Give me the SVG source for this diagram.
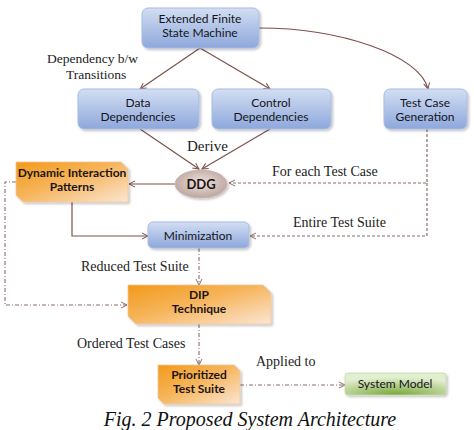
<svg xmlns="http://www.w3.org/2000/svg" width="474" height="430" viewBox="0 0 474 430">
<defs>
<linearGradient id="gBlue" x1="0" y1="0" x2="0" y2="1">
<stop offset="0" stop-color="#d2def2"/>
<stop offset="1" stop-color="#8ea8dc"/>
</linearGradient>
<linearGradient id="gOrange" x1="0" y1="0" x2="1" y2="1">
<stop offset="0" stop-color="#f29a1a"/>
<stop offset="0.45" stop-color="#f6b45a"/>
<stop offset="1" stop-color="#fbe6d4"/>
</linearGradient>
<radialGradient id="gDDG" cx="0.5" cy="0.45" r="0.6">
<stop offset="0" stop-color="#eee2de"/>
<stop offset="1" stop-color="#b8a09a"/>
</radialGradient>
<radialGradient id="gGreen" cx="0.5" cy="1" r="0.8">
<stop offset="0" stop-color="#76a635"/>
<stop offset="1" stop-color="#e2eed0"/>
</radialGradient>
<filter id="sh" x="-10%" y="-10%" width="130%" height="140%">
<feDropShadow dx="1.5" dy="1.5" stdDeviation="1" flood-color="#000" flood-opacity="0.25"/>
</filter>
<marker id="ah" viewBox="0 0 8 8" refX="7" refY="4" markerWidth="8" markerHeight="8" markerUnits="userSpaceOnUse" orient="auto">
<path d="M1,1 L7,4 L1,7" fill="none" stroke="#7b5149" stroke-width="1"/>
</marker>
<marker id="ahd" viewBox="0 0 8 8" refX="7" refY="4" markerWidth="8" markerHeight="8" markerUnits="userSpaceOnUse" orient="auto">
<path d="M1,1 L7,4 L1,7" fill="none" stroke="#8a6e6a" stroke-width="1"/>
</marker>
</defs>
<style>
.blue{fill:url(#gBlue);stroke:#a9bce3;stroke-width:1;filter:url(#sh)}
.orange{fill:url(#gOrange);stroke:#f0c79a;stroke-width:0.8;filter:url(#sh)}
.bt{font-family:Lato,"Open Sans",sans-serif;font-size:12px;fill:#141420;text-anchor:middle}
.ot{font-family:Lato,"Open Sans",sans-serif;font-size:12px;font-weight:bold;fill:#1c1414;text-anchor:middle}
.lbl{font-family:"Liberation Serif",serif;font-size:14px;fill:#222}
.solid{fill:none;stroke:#7b5149;stroke-width:1.2}
.dash{fill:none;stroke:#8a6e6a;stroke-width:1.2;stroke-dasharray:3 2}
.dd{fill:none;stroke:#8a6e6a;stroke-width:1.1;stroke-dasharray:4 2 1 2}
</style>

<g id="connectors">
<path class="solid" d="M200,48 L140,89" marker-end="url(#ah)"/>
<path class="solid" d="M200,48 L270,89" marker-end="url(#ah)"/>
<path class="solid" d="M259,28 C340,28 420,55 428,89" marker-end="url(#ah)"/>
<path class="solid" d="M140,129 L199,169" marker-end="url(#ah)"/>
<path class="solid" d="M270,129 L202,169" marker-end="url(#ah)"/>
<path class="solid" d="M175,184 L129,184" marker-end="url(#ah)"/>
<path class="solid" d="M72,202 V236 H148" marker-end="url(#ah)"/>
<path class="dash" d="M427,129 V183 H229" marker-end="url(#ahd)"/>
<path class="dash" d="M427,183 V236 H250" marker-end="url(#ahd)"/>
<path class="dd" d="M16,182 H5 V305 H127" marker-end="url(#ahd)"/>
<path class="dd" d="M199,248 V285" marker-end="url(#ahd)"/>
<path class="dd" d="M199,324 V365" marker-end="url(#ahd)"/>
<path class="dd" d="M240,385 H345" marker-end="url(#ahd)"/>
</g>

<g id="labels">
<text class="lbl" x="47" y="63" style="font-size:13.5px">Dependency b/w</text>
<text class="lbl" x="66" y="79" style="font-size:13.5px">Transitions</text>
<text class="lbl" x="187" y="151" style="font-size:15px">Derive</text>
<text class="lbl" x="272" y="176">For each Test Case</text>
<text class="lbl" x="293" y="227">Entire Test Suite</text>
<text class="lbl" x="81" y="271">Reduced Test Suite</text>
<text class="lbl" x="77" y="348">Ordered Test Cases</text>
<text class="lbl" x="256" y="366">Applied to</text>
</g>

<g id="efsm">
<rect class="blue" x="142" y="8" width="117" height="40" rx="6"/>
<text class="bt" x="200" y="23">Extended Finite</text>
<text class="bt" x="200" y="37">State Machine</text>
</g>
<g id="data-dep">
<rect class="blue" x="78" y="89" width="121" height="40" rx="6"/>
<text class="bt" x="138" y="107">Data</text>
<text class="bt" x="138" y="121">Dependencies</text>
</g>
<g id="control-dep">
<rect class="blue" x="212" y="89" width="119" height="40" rx="6"/>
<text class="bt" x="271" y="107">Control</text>
<text class="bt" x="271" y="121">Dependencies</text>
</g>
<g id="test-case-gen">
<rect class="blue" x="384" y="89" width="83" height="40" rx="6"/>
<text class="bt" x="425" y="107">Test Case</text>
<text class="bt" x="425" y="121">Generation</text>
</g>
<g id="ddg">
<ellipse cx="201" cy="184" rx="26" ry="14" fill="url(#gDDG)" stroke="#c9b5b0" stroke-width="0.8" filter="url(#sh)"/>
<text class="ot" x="201" y="189" style="font-size:13px">DDG</text>
</g>
<g id="dip-patterns">
<path class="orange" d="M16,162 H121 L128,169 V202 H23 L16,195 Z"/>
<text class="ot" x="72" y="177">Dynamic Interaction</text>
<text class="ot" x="72" y="191">Patterns</text>
</g>
<g id="minimization">
<rect class="blue" x="148" y="222" width="101" height="26" rx="5"/>
<text class="bt" x="198" y="240">Minimization</text>
</g>
<g id="dip-technique">
<path class="orange" d="M128,285 H263 L271,293 V324 H136 L128,316 Z"/>
<text class="ot" x="199" y="299">DIP</text>
<text class="ot" x="199" y="313">Technique</text>
</g>
<g id="prioritized">
<path class="orange" d="M158,365 H234 L240,371 V404 H164 L158,398 Z"/>
<text class="ot" x="199" y="379">Prioritized</text>
<text class="ot" x="199" y="393">Test Suite</text>
</g>
<g id="system-model">
<rect x="345" y="373" width="101" height="22" rx="3" fill="url(#gGreen)" stroke="#c4d8a8" stroke-width="0.8" filter="url(#sh)"/>
<text class="bt" x="395" y="388">System Model</text>
</g>

<text x="250" y="426" text-anchor="middle" font-family="'Liberation Serif',serif" font-style="italic" font-size="20" fill="#111">Fig. 2 Proposed System Architecture</text>
</svg>
